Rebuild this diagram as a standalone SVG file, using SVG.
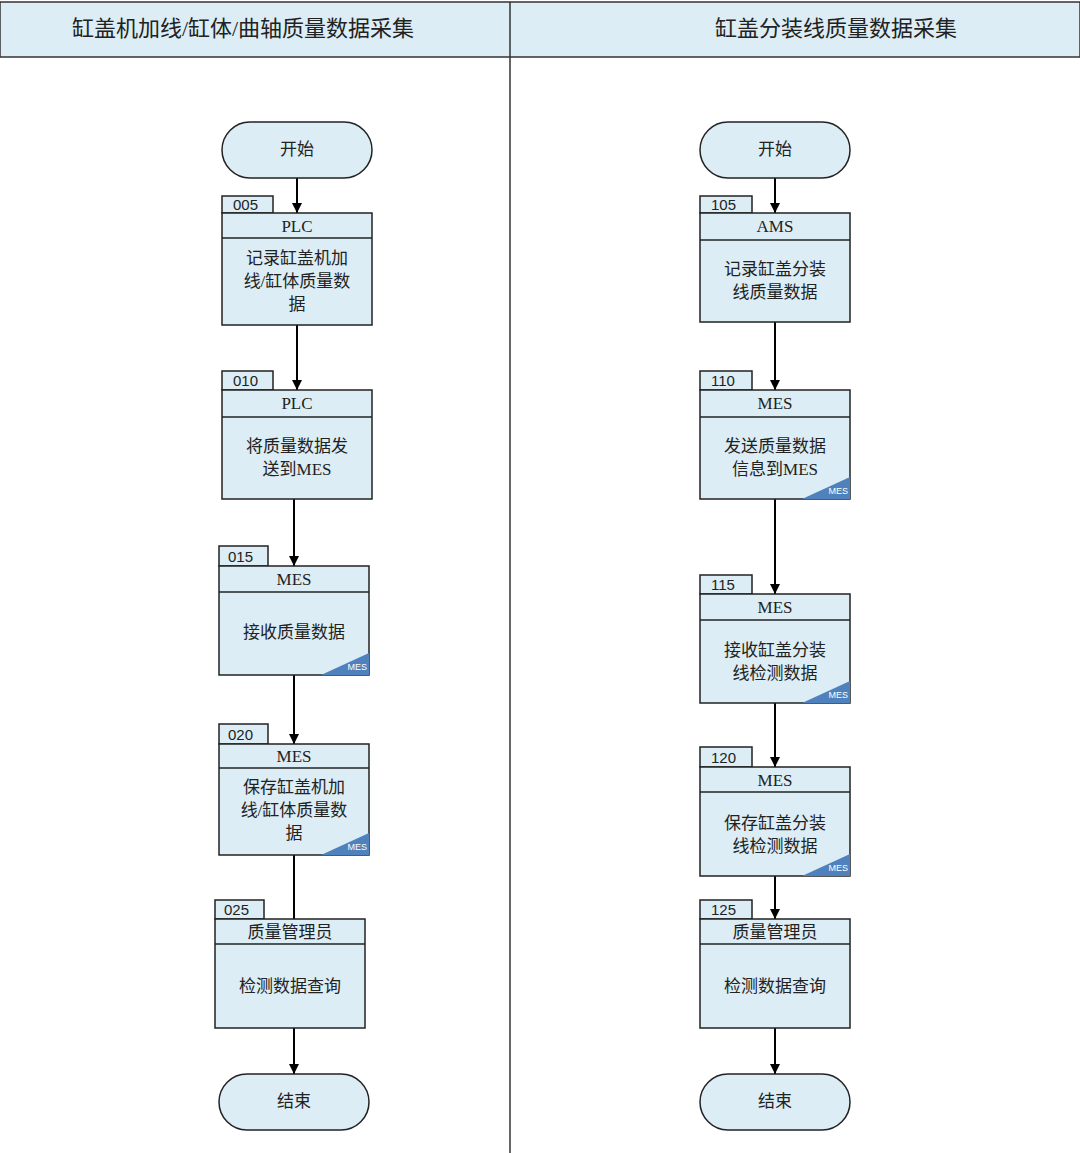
<svg xmlns="http://www.w3.org/2000/svg" width="1080" height="1153" viewBox="0 0 1080 1153">
<defs>
<marker id="ah" viewBox="0 0 10 10" refX="10" refY="5" markerWidth="10" markerHeight="12" markerUnits="userSpaceOnUse" orient="auto"><path d="M0,0 L10,5 L0,10 z" fill="#000"/></marker>
<style>
.b{fill:#dcedf5;stroke:#222;stroke-width:1.5}
.t{font-family:"Liberation Serif","Noto Sans CJK SC",serif;font-size:17px;fill:#222;text-anchor:middle}
.h{font-size:22px}
.n{font-family:"Liberation Sans",sans-serif;font-size:15px;fill:#222}
.c{stroke:#000;stroke-width:2;fill:none}
.m{font-family:"Liberation Sans",sans-serif;font-size:9px;fill:#fff;text-anchor:end}
</style>
</defs>
<rect width="1080" height="1153" fill="#fff"/>
<g id="header">
<rect x="0" y="2" width="1080" height="55" fill="#dcedf5" stroke="#333" stroke-width="1.5"/>
<line x1="510" y1="2" x2="510" y2="1153" stroke="#333" stroke-width="1.5"/>
<text class="t h" x="243" y="36">缸盖机加线/缸体/曲轴质量数据采集</text>
<text class="t h" x="836" y="36">缸盖分装线质量数据采集</text>
</g>
<g id="connectors">
<line class="c" x1="297" y1="178" x2="297" y2="213" marker-end="url(#ah)"/>
<line class="c" x1="297" y1="325" x2="297" y2="390" marker-end="url(#ah)"/>
<line class="c" x1="294" y1="499" x2="294" y2="566" marker-end="url(#ah)"/>
<line class="c" x1="294" y1="675" x2="294" y2="744" marker-end="url(#ah)"/>
<line class="c" x1="294" y1="855" x2="294" y2="919"/>
<line class="c" x1="294" y1="1028" x2="294" y2="1074" marker-end="url(#ah)"/>
<line class="c" x1="775" y1="178" x2="775" y2="213" marker-end="url(#ah)"/>
<line class="c" x1="775" y1="322" x2="775" y2="390" marker-end="url(#ah)"/>
<line class="c" x1="775" y1="499" x2="775" y2="594" marker-end="url(#ah)"/>
<line class="c" x1="775" y1="703" x2="775" y2="767" marker-end="url(#ah)"/>
<line class="c" x1="775" y1="876" x2="775" y2="919" marker-end="url(#ah)"/>
<line class="c" x1="775" y1="1028" x2="775" y2="1074" marker-end="url(#ah)"/>
</g>
<g id="start1"><rect class="b" x="222" y="122" width="150" height="56" rx="28"/><text class="t" x="297" y="155">开始</text></g>
<g id="n005"><rect class="b" x="222" y="196" width="51" height="17"/><text class="n" x="233" y="210">005</text>
<rect class="b" x="222" y="213" width="150" height="112"/><line x1="222" y1="238" x2="372" y2="238" stroke="#222" stroke-width="1.5"/>
<text class="t" x="297" y="232">PLC</text><text class="t" x="297" y="264">记录缸盖机加</text><text class="t" x="297" y="287">线/缸体质量数</text><text class="t" x="297" y="310">据</text></g>
<g id="n010"><rect class="b" x="222" y="371" width="51" height="19"/><text class="n" x="233" y="386">010</text>
<rect class="b" x="222" y="390" width="150" height="109"/><line x1="222" y1="417" x2="372" y2="417" stroke="#222" stroke-width="1.5"/>
<text class="t" x="297" y="409">PLC</text><text class="t" x="297" y="452">将质量数据发</text><text class="t" x="297" y="475">送到MES</text></g>
<g id="n015"><rect class="b" x="219" y="546" width="49" height="20"/><text class="n" x="228" y="562">015</text>
<rect class="b" x="219" y="566" width="150" height="109"/><line x1="219" y1="592" x2="369" y2="592" stroke="#222" stroke-width="1.5"/>
<polygon points="321,675 369,653 369,675" fill="#4f81bd"/><text class="m" x="367" y="670">MES</text>
<text class="t" x="294" y="585">MES</text><text class="t" x="294" y="638">接收质量数据</text></g>
<g id="n020"><rect class="b" x="219" y="724" width="49" height="20"/><text class="n" x="228" y="740">020</text>
<rect class="b" x="219" y="744" width="150" height="111"/><line x1="219" y1="768" x2="369" y2="768" stroke="#222" stroke-width="1.5"/>
<polygon points="321,855 369,833 369,855" fill="#4f81bd"/><text class="m" x="367" y="850">MES</text>
<text class="t" x="294" y="762">MES</text><text class="t" x="294" y="793">保存缸盖机加</text><text class="t" x="294" y="816">线/缸体质量数</text><text class="t" x="294" y="839">据</text></g>
<g id="n025"><rect class="b" x="215" y="900" width="49" height="19"/><text class="n" x="224" y="915">025</text>
<rect class="b" x="215" y="919" width="150" height="109"/><line x1="215" y1="944" x2="365" y2="944" stroke="#222" stroke-width="1.5"/>
<text class="t" x="290" y="938">质量管理员</text><text class="t" x="290" y="992">检测数据查询</text></g>
<g id="end1"><rect class="b" x="219" y="1074" width="150" height="56" rx="28"/><text class="t" x="294" y="1107">结束</text></g>
<g id="start2"><rect class="b" x="700" y="122" width="150" height="56" rx="28"/><text class="t" x="775" y="155">开始</text></g>
<g id="n105"><rect class="b" x="700" y="196" width="52" height="17"/><text class="n" x="711" y="210">105</text>
<rect class="b" x="700" y="213" width="150" height="109"/><line x1="700" y1="240" x2="850" y2="240" stroke="#222" stroke-width="1.5"/>
<text class="t" x="775" y="232">AMS</text><text class="t" x="775" y="275">记录缸盖分装</text><text class="t" x="775" y="298">线质量数据</text></g>
<g id="n110"><rect class="b" x="700" y="371" width="52" height="19"/><text class="n" x="711" y="386">110</text>
<rect class="b" x="700" y="390" width="150" height="109"/><line x1="700" y1="417" x2="850" y2="417" stroke="#222" stroke-width="1.5"/>
<polygon points="802,499 850,477 850,499" fill="#4f81bd"/><text class="m" x="848" y="494">MES</text>
<text class="t" x="775" y="409">MES</text><text class="t" x="775" y="452">发送质量数据</text><text class="t" x="775" y="475">信息到MES</text></g>
<g id="n115"><rect class="b" x="700" y="575" width="52" height="19"/><text class="n" x="711" y="590">115</text>
<rect class="b" x="700" y="594" width="150" height="109"/><line x1="700" y1="620" x2="850" y2="620" stroke="#222" stroke-width="1.5"/>
<polygon points="802,703 850,681 850,703" fill="#4f81bd"/><text class="m" x="848" y="698">MES</text>
<text class="t" x="775" y="613">MES</text><text class="t" x="775" y="656">接收缸盖分装</text><text class="t" x="775" y="679">线检测数据</text></g>
<g id="n120"><rect class="b" x="700" y="747" width="52" height="20"/><text class="n" x="711" y="763">120</text>
<rect class="b" x="700" y="767" width="150" height="109"/><line x1="700" y1="792" x2="850" y2="792" stroke="#222" stroke-width="1.5"/>
<polygon points="802,876 850,854 850,876" fill="#4f81bd"/><text class="m" x="848" y="871">MES</text>
<text class="t" x="775" y="786">MES</text><text class="t" x="775" y="829">保存缸盖分装</text><text class="t" x="775" y="852">线检测数据</text></g>
<g id="n125"><rect class="b" x="700" y="900" width="52" height="19"/><text class="n" x="711" y="915">125</text>
<rect class="b" x="700" y="919" width="150" height="109"/><line x1="700" y1="944" x2="850" y2="944" stroke="#222" stroke-width="1.5"/>
<text class="t" x="775" y="938">质量管理员</text><text class="t" x="775" y="992">检测数据查询</text></g>
<g id="end2"><rect class="b" x="700" y="1074" width="150" height="56" rx="28"/><text class="t" x="775" y="1107">结束</text></g>
</svg>
